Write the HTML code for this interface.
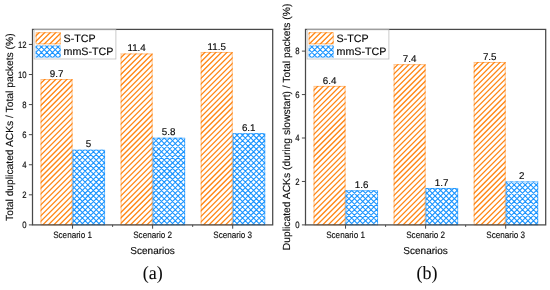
<!DOCTYPE html>
<html><head><meta charset="utf-8"><style>
html,body{margin:0;padding:0;background:#fff;width:550px;height:290px;overflow:hidden}
svg{display:block;will-change:transform}

text{text-rendering:geometricPrecision;font-family:"Liberation Sans",sans-serif;fill:#0a0a0a;stroke:#0a0a0a;stroke-width:0.25px}
.v{font-size:9.8px;text-anchor:middle;stroke-width:0.15px}
.yt{font-size:8.8px;text-anchor:end;stroke-width:0.15px}
.xt{font-size:8.15px;text-anchor:middle;stroke-width:0.12px}
.lg{font-size:10.7px;stroke-width:0.15px}
.xl{font-size:10px;text-anchor:middle;stroke-width:0.15px}
.yl{font-size:10.3px;text-anchor:middle;stroke-width:0.12px}
.cap{font-family:"Liberation Serif",serif;font-size:18px;text-anchor:middle;stroke-width:0.05px}
</style></head><body><div id="w" style="position:relative">
<svg width="550" height="290" viewBox="0 0 550 290">
<rect width="550" height="290" fill="#fff"/>
<g>
<clipPath id="c1"><rect x="40.55" y="79.03" width="32.00" height="145.87"/></clipPath><path clip-path="url(#c1)" d="M-112.78 225.90L35.09 78.03M-107.26 225.90L40.61 78.03M-101.74 225.90L46.13 78.03M-96.22 225.90L51.65 78.03M-90.70 225.90L57.17 78.03M-85.18 225.90L62.69 78.03M-79.66 225.90L68.21 78.03M-74.14 225.90L73.73 78.03M-68.62 225.90L79.25 78.03M-63.10 225.90L84.77 78.03M-57.58 225.90L90.29 78.03M-52.06 225.90L95.81 78.03M-46.54 225.90L101.33 78.03M-41.02 225.90L106.85 78.03M-35.50 225.90L112.37 78.03M-29.98 225.90L117.89 78.03M-24.46 225.90L123.41 78.03M-18.94 225.90L128.93 78.03M-13.42 225.90L134.45 78.03M-7.90 225.90L139.97 78.03M-2.38 225.90L145.49 78.03M3.14 225.90L151.01 78.03M8.66 225.90L156.53 78.03M14.18 225.90L162.05 78.03M19.70 225.90L167.57 78.03M25.22 225.90L173.09 78.03M30.74 225.90L178.61 78.03M36.26 225.90L184.13 78.03M41.78 225.90L189.65 78.03M47.30 225.90L195.17 78.03M52.82 225.90L200.69 78.03M58.34 225.90L206.21 78.03M63.86 225.90L211.73 78.03M69.38 225.90L217.25 78.03M74.90 225.90L222.77 78.03M80.42 225.90L228.29 78.03" stroke="#ff8614" stroke-width="1.3" fill="none"/>
<rect x="41.05" y="79.53" width="31" height="145.37" fill="none" stroke="#ff8614" stroke-opacity="0.5" stroke-width="1"/>
<clipPath id="c2"><rect x="72.55" y="149.71" width="32.50" height="75.19"/></clipPath><path clip-path="url(#c2)" d="M-13.78 225.90L63.41 148.71M-8.26 225.90L68.93 148.71M-2.74 225.90L74.45 148.71M2.78 225.90L79.97 148.71M8.30 225.90L85.49 148.71M13.82 225.90L91.01 148.71M19.34 225.90L96.53 148.71M24.86 225.90L102.05 148.71M30.38 225.90L107.57 148.71M35.90 225.90L113.09 148.71M41.42 225.90L118.61 148.71M46.94 225.90L124.13 148.71M52.46 225.90L129.65 148.71M57.98 225.90L135.17 148.71M63.50 225.90L140.69 148.71M69.02 225.90L146.21 148.71M74.54 225.90L151.73 148.71M80.06 225.90L157.25 148.71M85.58 225.90L162.77 148.71M91.10 225.90L168.29 148.71M96.62 225.90L173.81 148.71M102.14 225.90L179.33 148.71M107.66 225.90L184.85 148.71M113.18 225.90L190.37 148.71M-14.53 148.71L62.66 225.90M-9.01 148.71L68.18 225.90M-3.49 148.71L73.70 225.90M2.03 148.71L79.22 225.90M7.55 148.71L84.74 225.90M13.07 148.71L90.26 225.90M18.59 148.71L95.78 225.90M24.11 148.71L101.30 225.90M29.63 148.71L106.82 225.90M35.15 148.71L112.34 225.90M40.67 148.71L117.86 225.90M46.19 148.71L123.38 225.90M51.71 148.71L128.90 225.90M57.23 148.71L134.42 225.90M62.75 148.71L139.94 225.90M68.27 148.71L145.46 225.90M73.79 148.71L150.98 225.90M79.31 148.71L156.50 225.90M84.83 148.71L162.02 225.90M90.35 148.71L167.54 225.90M95.87 148.71L173.06 225.90M101.39 148.71L178.58 225.90M106.91 148.71L184.10 225.90M112.43 148.71L189.62 225.90" stroke="#1a94ff" stroke-width="1.1" fill="none"/>
<rect x="73.05" y="150.21" width="31.5" height="74.69" fill="none" stroke="#1a94ff" stroke-opacity="0.6" stroke-width="1"/>
<text x="56.55" y="76.73" class="v">9.7</text>
<text x="88.55" y="147.41" class="v">5</text>
<line x1="72.55" y1="224.9" x2="72.55" y2="228.70000000000002" stroke="#484848" stroke-width="1"/>
<text transform="translate(72.55,238.30) scale(1,1.13)" class="xt">Scenario 1</text>
<line x1="112.60" y1="224.9" x2="112.60" y2="226.9" stroke="#484848" stroke-width="1"/>
<clipPath id="c3"><rect x="120.62" y="53.46" width="32.00" height="171.44"/></clipPath><path clip-path="url(#c3)" d="M-58.28 225.90L115.16 52.46M-52.76 225.90L120.68 52.46M-47.24 225.90L126.20 52.46M-41.72 225.90L131.72 52.46M-36.20 225.90L137.24 52.46M-30.68 225.90L142.76 52.46M-25.16 225.90L148.28 52.46M-19.64 225.90L153.80 52.46M-14.12 225.90L159.32 52.46M-8.60 225.90L164.84 52.46M-3.08 225.90L170.36 52.46M2.44 225.90L175.88 52.46M7.96 225.90L181.40 52.46M13.48 225.90L186.92 52.46M19.00 225.90L192.44 52.46M24.52 225.90L197.96 52.46M30.04 225.90L203.48 52.46M35.56 225.90L209.00 52.46M41.08 225.90L214.52 52.46M46.60 225.90L220.04 52.46M52.12 225.90L225.56 52.46M57.64 225.90L231.08 52.46M63.16 225.90L236.60 52.46M68.68 225.90L242.12 52.46M74.20 225.90L247.64 52.46M79.72 225.90L253.16 52.46M85.24 225.90L258.68 52.46M90.76 225.90L264.20 52.46M96.28 225.90L269.72 52.46M101.80 225.90L275.24 52.46M107.32 225.90L280.76 52.46M112.84 225.90L286.28 52.46M118.36 225.90L291.80 52.46M123.88 225.90L297.32 52.46M129.40 225.90L302.84 52.46M134.92 225.90L308.36 52.46M140.44 225.90L313.88 52.46M145.96 225.90L319.40 52.46M151.48 225.90L324.92 52.46M157.00 225.90L330.44 52.46M162.52 225.90L335.96 52.46" stroke="#ff8614" stroke-width="1.3" fill="none"/>
<rect x="121.12" y="53.96" width="31" height="170.94" fill="none" stroke="#ff8614" stroke-opacity="0.5" stroke-width="1"/>
<clipPath id="c4"><rect x="152.62" y="137.68" width="32.50" height="87.22"/></clipPath><path clip-path="url(#c4)" d="M54.26 225.90L143.48 136.68M59.78 225.90L149.00 136.68M65.30 225.90L154.52 136.68M70.82 225.90L160.04 136.68M76.34 225.90L165.56 136.68M81.86 225.90L171.08 136.68M87.38 225.90L176.60 136.68M92.90 225.90L182.12 136.68M98.42 225.90L187.64 136.68M103.94 225.90L193.16 136.68M109.46 225.90L198.68 136.68M114.98 225.90L204.20 136.68M120.50 225.90L209.72 136.68M126.02 225.90L215.24 136.68M131.54 225.90L220.76 136.68M137.06 225.90L226.28 136.68M142.58 225.90L231.80 136.68M148.10 225.90L237.32 136.68M153.62 225.90L242.84 136.68M159.14 225.90L248.36 136.68M164.66 225.90L253.88 136.68M170.18 225.90L259.40 136.68M175.70 225.90L264.92 136.68M181.22 225.90L270.44 136.68M186.74 225.90L275.96 136.68M192.26 225.90L281.48 136.68M58.03 136.68L147.26 225.90M63.55 136.68L152.78 225.90M69.07 136.68L158.30 225.90M74.59 136.68L163.82 225.90M80.11 136.68L169.34 225.90M85.63 136.68L174.86 225.90M91.15 136.68L180.38 225.90M96.67 136.68L185.90 225.90M102.19 136.68L191.42 225.90M107.71 136.68L196.94 225.90M113.23 136.68L202.46 225.90M118.75 136.68L207.98 225.90M124.27 136.68L213.50 225.90M129.79 136.68L219.02 225.90M135.31 136.68L224.54 225.90M140.83 136.68L230.06 225.90M146.35 136.68L235.58 225.90M151.87 136.68L241.10 225.90M157.39 136.68L246.62 225.90M162.91 136.68L252.14 225.90M168.43 136.68L257.66 225.90M173.95 136.68L263.18 225.90M179.47 136.68L268.70 225.90M184.99 136.68L274.22 225.90M190.51 136.68L279.74 225.90" stroke="#1a94ff" stroke-width="1.1" fill="none"/>
<rect x="153.12" y="138.18" width="31.5" height="86.72" fill="none" stroke="#1a94ff" stroke-opacity="0.6" stroke-width="1"/>
<text x="136.62" y="51.16" class="v">11.4</text>
<text x="168.62" y="135.38" class="v">5.8</text>
<line x1="152.62" y1="224.9" x2="152.62" y2="228.70000000000002" stroke="#484848" stroke-width="1"/>
<text transform="translate(152.62,238.30) scale(1,1.13)" class="xt">Scenario 2</text>
<line x1="192.67" y1="224.9" x2="192.67" y2="226.9" stroke="#484848" stroke-width="1"/>
<clipPath id="c5"><rect x="200.69" y="51.96" width="32.00" height="172.94"/></clipPath><path clip-path="url(#c5)" d="M20.29 225.90L195.23 50.96M25.81 225.90L200.75 50.96M31.33 225.90L206.27 50.96M36.85 225.90L211.79 50.96M42.37 225.90L217.31 50.96M47.89 225.90L222.83 50.96M53.41 225.90L228.35 50.96M58.93 225.90L233.87 50.96M64.45 225.90L239.39 50.96M69.97 225.90L244.91 50.96M75.49 225.90L250.43 50.96M81.01 225.90L255.95 50.96M86.53 225.90L261.47 50.96M92.05 225.90L266.99 50.96M97.57 225.90L272.51 50.96M103.09 225.90L278.03 50.96M108.61 225.90L283.55 50.96M114.13 225.90L289.07 50.96M119.65 225.90L294.59 50.96M125.17 225.90L300.11 50.96M130.69 225.90L305.63 50.96M136.21 225.90L311.15 50.96M141.73 225.90L316.67 50.96M147.25 225.90L322.19 50.96M152.77 225.90L327.71 50.96M158.29 225.90L333.23 50.96M163.81 225.90L338.75 50.96M169.33 225.90L344.27 50.96M174.85 225.90L349.79 50.96M180.37 225.90L355.31 50.96M185.89 225.90L360.83 50.96M191.41 225.90L366.35 50.96M196.93 225.90L371.87 50.96M202.45 225.90L377.39 50.96M207.97 225.90L382.91 50.96M213.49 225.90L388.43 50.96M219.01 225.90L393.95 50.96M224.53 225.90L399.47 50.96M230.05 225.90L404.99 50.96M235.57 225.90L410.51 50.96M241.09 225.90L416.03 50.96" stroke="#ff8614" stroke-width="1.3" fill="none"/>
<rect x="201.19" y="52.46" width="31" height="172.44" fill="none" stroke="#ff8614" stroke-opacity="0.5" stroke-width="1"/>
<clipPath id="c6"><rect x="232.69" y="133.17" width="32.50" height="91.73"/></clipPath><path clip-path="url(#c6)" d="M129.82 225.90L223.55 132.17M135.34 225.90L229.07 132.17M140.86 225.90L234.59 132.17M146.38 225.90L240.11 132.17M151.90 225.90L245.63 132.17M157.42 225.90L251.15 132.17M162.94 225.90L256.67 132.17M168.46 225.90L262.19 132.17M173.98 225.90L267.71 132.17M179.50 225.90L273.23 132.17M185.02 225.90L278.75 132.17M190.54 225.90L284.27 132.17M196.06 225.90L289.79 132.17M201.58 225.90L295.31 132.17M207.10 225.90L300.83 132.17M212.62 225.90L306.35 132.17M218.14 225.90L311.87 132.17M223.66 225.90L317.39 132.17M229.18 225.90L322.91 132.17M234.70 225.90L328.43 132.17M240.22 225.90L333.95 132.17M245.74 225.90L339.47 132.17M251.26 225.90L344.99 132.17M256.78 225.90L350.51 132.17M262.30 225.90L356.03 132.17M267.82 225.90L361.55 132.17M273.34 225.90L367.07 132.17M129.08 132.17L222.82 225.90M134.60 132.17L228.34 225.90M140.12 132.17L233.86 225.90M145.64 132.17L239.38 225.90M151.16 132.17L244.90 225.90M156.68 132.17L250.42 225.90M162.20 132.17L255.94 225.90M167.72 132.17L261.46 225.90M173.24 132.17L266.98 225.90M178.76 132.17L272.50 225.90M184.28 132.17L278.02 225.90M189.80 132.17L283.54 225.90M195.32 132.17L289.06 225.90M200.84 132.17L294.58 225.90M206.36 132.17L300.10 225.90M211.88 132.17L305.62 225.90M217.40 132.17L311.14 225.90M222.92 132.17L316.66 225.90M228.44 132.17L322.18 225.90M233.96 132.17L327.70 225.90M239.48 132.17L333.22 225.90M245.00 132.17L338.74 225.90M250.52 132.17L344.26 225.90M256.04 132.17L349.78 225.90M261.56 132.17L355.30 225.90M267.08 132.17L360.82 225.90M272.60 132.17L366.34 225.90" stroke="#1a94ff" stroke-width="1.1" fill="none"/>
<rect x="233.19" y="133.67" width="31.5" height="91.23" fill="none" stroke="#1a94ff" stroke-opacity="0.6" stroke-width="1"/>
<text x="216.69" y="49.66" class="v">11.5</text>
<text x="248.69" y="130.87" class="v">6.1</text>
<line x1="232.69" y1="224.9" x2="232.69" y2="228.70000000000002" stroke="#484848" stroke-width="1"/>
<text transform="translate(232.69,238.30) scale(1,1.13)" class="xt">Scenario 3</text>
<line x1="28.90" y1="224.90" x2="32.5" y2="224.90" stroke="#484848" stroke-width="1"/>
<text transform="translate(26.50,228.10) scale(0.88,1.05)" class="yt">0</text>
<line x1="28.90" y1="194.82" x2="32.5" y2="194.82" stroke="#484848" stroke-width="1"/>
<text transform="translate(26.50,198.02) scale(0.88,1.05)" class="yt">2</text>
<line x1="28.90" y1="164.75" x2="32.5" y2="164.75" stroke="#484848" stroke-width="1"/>
<text transform="translate(26.50,167.95) scale(0.88,1.05)" class="yt">4</text>
<line x1="28.90" y1="134.67" x2="32.5" y2="134.67" stroke="#484848" stroke-width="1"/>
<text transform="translate(26.50,137.87) scale(0.88,1.05)" class="yt">6</text>
<line x1="28.90" y1="104.59" x2="32.5" y2="104.59" stroke="#484848" stroke-width="1"/>
<text transform="translate(26.50,107.79) scale(0.88,1.05)" class="yt">8</text>
<line x1="28.90" y1="74.52" x2="32.5" y2="74.52" stroke="#484848" stroke-width="1"/>
<text transform="translate(26.50,77.72) scale(0.88,1.05)" class="yt">10</text>
<line x1="28.90" y1="44.44" x2="32.5" y2="44.44" stroke="#484848" stroke-width="1"/>
<text transform="translate(26.50,47.64) scale(0.88,1.05)" class="yt">12</text>
<rect x="32.50" y="29.40" width="240.20" height="195.50" fill="none" stroke="#484848" stroke-width="1.25"/>
<rect x="34.10" y="29.80" width="81.80" height="29.20" fill="#fff" stroke="#bdbdbd" stroke-width="0.8"/>
<clipPath id="c7"><rect x="35.65" y="32.20" width="25.05" height="12.10"/></clipPath><path clip-path="url(#c7)" d="M15.42 45.30L29.52 31.20M20.94 45.30L35.04 31.20M26.46 45.30L40.56 31.20M31.98 45.30L46.08 31.20M37.50 45.30L51.60 31.20M43.02 45.30L57.12 31.20M48.54 45.30L62.64 31.20M54.06 45.30L68.16 31.20M59.58 45.30L73.68 31.20M65.10 45.30L79.20 31.20M70.62 45.30L84.72 31.20" stroke="#ff8614" stroke-width="1.3" fill="none"/>
<rect x="36.15" y="32.70" width="24.05" height="11.1" fill="none" stroke="#ff8614" stroke-opacity="0.55"/>
<clipPath id="c8"><rect x="35.65" y="45.60" width="25.05" height="12.00"/></clipPath><path clip-path="url(#c8)" d="M13.16 58.60L27.16 44.60M18.68 58.60L32.68 44.60M24.20 58.60L38.20 44.60M29.72 58.60L43.72 44.60M35.24 58.60L49.24 44.60M40.76 58.60L54.76 44.60M46.28 58.60L60.28 44.60M51.80 58.60L65.80 44.60M57.32 58.60L71.32 44.60M62.84 58.60L76.84 44.60M68.36 58.60L82.36 44.60M17.00 44.60L31.00 58.60M22.52 44.60L36.52 58.60M28.04 44.60L42.04 58.60M33.56 44.60L47.56 58.60M39.08 44.60L53.08 58.60M44.60 44.60L58.60 58.60M50.12 44.60L64.12 58.60M55.64 44.60L69.64 58.60M61.16 44.60L75.16 58.60M66.68 44.60L80.68 58.60" stroke="#1a94ff" stroke-width="1.1" fill="none"/>
<rect x="36.15" y="46.10" width="24.05" height="11" fill="none" stroke="#1a94ff" stroke-opacity="0.4"/>
<text x="63.50" y="42.00" class="lg">S-TCP</text>
<text x="63.50" y="55.40" class="lg">mmS-TCP</text>
<text x="152.60" y="254.00" class="xl">Scenarios</text>
<text transform="translate(152.80,279.2) scale(1,1.04)" class="cap">(a)</text>
<text transform="translate(13.00,127.2) rotate(-90)" x="0" y="0" class="yl">Total duplicated ACKs / Total packets (%)</text>
<clipPath id="c9"><rect x="313.55" y="85.88" width="32.00" height="139.02"/></clipPath><path clip-path="url(#c9)" d="M167.07 225.90L308.09 84.88M172.59 225.90L313.61 84.88M178.11 225.90L319.13 84.88M183.63 225.90L324.65 84.88M189.15 225.90L330.17 84.88M194.67 225.90L335.69 84.88M200.19 225.90L341.21 84.88M205.71 225.90L346.73 84.88M211.23 225.90L352.25 84.88M216.75 225.90L357.77 84.88M222.27 225.90L363.29 84.88M227.79 225.90L368.81 84.88M233.31 225.90L374.33 84.88M238.83 225.90L379.85 84.88M244.35 225.90L385.37 84.88M249.87 225.90L390.89 84.88M255.39 225.90L396.41 84.88M260.91 225.90L401.93 84.88M266.43 225.90L407.45 84.88M271.95 225.90L412.97 84.88M277.47 225.90L418.49 84.88M282.99 225.90L424.01 84.88M288.51 225.90L429.53 84.88M294.03 225.90L435.05 84.88M299.55 225.90L440.57 84.88M305.07 225.90L446.09 84.88M310.59 225.90L451.61 84.88M316.11 225.90L457.13 84.88M321.63 225.90L462.65 84.88M327.15 225.90L468.17 84.88M332.67 225.90L473.69 84.88M338.19 225.90L479.21 84.88M343.71 225.90L484.73 84.88M349.23 225.90L490.25 84.88M354.75 225.90L495.77 84.88" stroke="#ff8614" stroke-width="1.3" fill="none"/>
<rect x="314.05" y="86.38" width="31" height="138.52" fill="none" stroke="#ff8614" stroke-opacity="0.5" stroke-width="1"/>
<clipPath id="c10"><rect x="345.55" y="190.14" width="32.50" height="34.76"/></clipPath><path clip-path="url(#c10)" d="M299.65 225.90L336.41 189.14M305.17 225.90L341.93 189.14M310.69 225.90L347.45 189.14M316.21 225.90L352.97 189.14M321.73 225.90L358.49 189.14M327.25 225.90L364.01 189.14M332.77 225.90L369.53 189.14M338.29 225.90L375.05 189.14M343.81 225.90L380.57 189.14M349.33 225.90L386.09 189.14M354.85 225.90L391.61 189.14M360.37 225.90L397.13 189.14M365.89 225.90L402.65 189.14M371.41 225.90L408.17 189.14M376.93 225.90L413.69 189.14M382.45 225.90L419.21 189.14M387.97 225.90L424.73 189.14M300.70 189.14L337.45 225.90M306.22 189.14L342.97 225.90M311.74 189.14L348.49 225.90M317.26 189.14L354.01 225.90M322.78 189.14L359.53 225.90M328.30 189.14L365.05 225.90M333.82 189.14L370.57 225.90M339.34 189.14L376.09 225.90M344.86 189.14L381.61 225.90M350.38 189.14L387.13 225.90M355.90 189.14L392.65 225.90M361.42 189.14L398.17 225.90M366.94 189.14L403.69 225.90M372.46 189.14L409.21 225.90M377.98 189.14L414.73 225.90M383.50 189.14L420.25 225.90" stroke="#1a94ff" stroke-width="1.1" fill="none"/>
<rect x="346.05" y="190.64" width="31.5" height="34.26" fill="none" stroke="#1a94ff" stroke-opacity="0.6" stroke-width="1"/>
<text x="329.55" y="83.58" class="v">6.4</text>
<text x="361.55" y="187.84" class="v">1.6</text>
<line x1="345.55" y1="224.9" x2="345.55" y2="228.70000000000002" stroke="#484848" stroke-width="1"/>
<text transform="translate(345.55,238.30) scale(1,1.13)" class="xt">Scenario 1</text>
<line x1="385.60" y1="224.9" x2="385.60" y2="226.9" stroke="#484848" stroke-width="1"/>
<clipPath id="c11"><rect x="393.62" y="64.16" width="32.00" height="160.74"/></clipPath><path clip-path="url(#c11)" d="M225.42 225.90L388.16 63.16M230.94 225.90L393.68 63.16M236.46 225.90L399.20 63.16M241.98 225.90L404.72 63.16M247.50 225.90L410.24 63.16M253.02 225.90L415.76 63.16M258.54 225.90L421.28 63.16M264.06 225.90L426.80 63.16M269.58 225.90L432.32 63.16M275.10 225.90L437.84 63.16M280.62 225.90L443.36 63.16M286.14 225.90L448.88 63.16M291.66 225.90L454.40 63.16M297.18 225.90L459.92 63.16M302.70 225.90L465.44 63.16M308.22 225.90L470.96 63.16M313.74 225.90L476.48 63.16M319.26 225.90L482.00 63.16M324.78 225.90L487.52 63.16M330.30 225.90L493.04 63.16M335.82 225.90L498.56 63.16M341.34 225.90L504.08 63.16M346.86 225.90L509.60 63.16M352.38 225.90L515.12 63.16M357.90 225.90L520.64 63.16M363.42 225.90L526.16 63.16M368.94 225.90L531.68 63.16M374.46 225.90L537.20 63.16M379.98 225.90L542.72 63.16M385.50 225.90L548.24 63.16M391.02 225.90L553.76 63.16M396.54 225.90L559.28 63.16M402.06 225.90L564.80 63.16M407.58 225.90L570.32 63.16M413.10 225.90L575.84 63.16M418.62 225.90L581.36 63.16M424.14 225.90L586.88 63.16M429.66 225.90L592.40 63.16M435.18 225.90L597.92 63.16" stroke="#ff8614" stroke-width="1.3" fill="none"/>
<rect x="394.12" y="64.66" width="31" height="160.24" fill="none" stroke="#ff8614" stroke-opacity="0.5" stroke-width="1"/>
<clipPath id="c12"><rect x="425.62" y="187.97" width="32.50" height="36.93"/></clipPath><path clip-path="url(#c12)" d="M377.55 225.90L416.48 186.97M383.07 225.90L422.00 186.97M388.59 225.90L427.52 186.97M394.11 225.90L433.04 186.97M399.63 225.90L438.56 186.97M405.15 225.90L444.08 186.97M410.67 225.90L449.60 186.97M416.19 225.90L455.12 186.97M421.71 225.90L460.64 186.97M427.23 225.90L466.16 186.97M432.75 225.90L471.68 186.97M438.27 225.90L477.20 186.97M443.79 225.90L482.72 186.97M449.31 225.90L488.24 186.97M454.83 225.90L493.76 186.97M460.35 225.90L499.28 186.97M465.87 225.90L504.80 186.97M381.94 186.97L420.87 225.90M387.46 186.97L426.39 225.90M392.98 186.97L431.91 225.90M398.50 186.97L437.43 225.90M404.02 186.97L442.95 225.90M409.54 186.97L448.47 225.90M415.06 186.97L453.99 225.90M420.58 186.97L459.51 225.90M426.10 186.97L465.03 225.90M431.62 186.97L470.55 225.90M437.14 186.97L476.07 225.90M442.66 186.97L481.59 225.90M448.18 186.97L487.11 225.90M453.70 186.97L492.63 225.90M459.22 186.97L498.15 225.90M464.74 186.97L503.67 225.90" stroke="#1a94ff" stroke-width="1.1" fill="none"/>
<rect x="426.12" y="188.47" width="31.5" height="36.43" fill="none" stroke="#1a94ff" stroke-opacity="0.6" stroke-width="1"/>
<text x="409.62" y="61.86" class="v">7.4</text>
<text x="441.62" y="185.67" class="v">1.7</text>
<line x1="425.62" y1="224.9" x2="425.62" y2="228.70000000000002" stroke="#484848" stroke-width="1"/>
<text transform="translate(425.62,238.30) scale(1,1.13)" class="xt">Scenario 2</text>
<line x1="465.67" y1="224.9" x2="465.67" y2="226.9" stroke="#484848" stroke-width="1"/>
<clipPath id="c13"><rect x="473.69" y="61.98" width="32.00" height="162.92"/></clipPath><path clip-path="url(#c13)" d="M303.31 225.90L468.23 60.98M308.83 225.90L473.75 60.98M314.35 225.90L479.27 60.98M319.87 225.90L484.79 60.98M325.39 225.90L490.31 60.98M330.91 225.90L495.83 60.98M336.43 225.90L501.35 60.98M341.95 225.90L506.87 60.98M347.47 225.90L512.39 60.98M352.99 225.90L517.91 60.98M358.51 225.90L523.43 60.98M364.03 225.90L528.95 60.98M369.55 225.90L534.47 60.98M375.07 225.90L539.99 60.98M380.59 225.90L545.51 60.98M386.11 225.90L551.03 60.98M391.63 225.90L556.55 60.98M397.15 225.90L562.07 60.98M402.67 225.90L567.59 60.98M408.19 225.90L573.11 60.98M413.71 225.90L578.63 60.98M419.23 225.90L584.15 60.98M424.75 225.90L589.67 60.98M430.27 225.90L595.19 60.98M435.79 225.90L600.71 60.98M441.31 225.90L606.23 60.98M446.83 225.90L611.75 60.98M452.35 225.90L617.27 60.98M457.87 225.90L622.79 60.98M463.39 225.90L628.31 60.98M468.91 225.90L633.83 60.98M474.43 225.90L639.35 60.98M479.95 225.90L644.87 60.98M485.47 225.90L650.39 60.98M490.99 225.90L655.91 60.98M496.51 225.90L661.43 60.98M502.03 225.90L666.95 60.98M507.55 225.90L672.47 60.98M513.07 225.90L677.99 60.98" stroke="#ff8614" stroke-width="1.3" fill="none"/>
<rect x="474.19" y="62.48" width="31" height="162.42" fill="none" stroke="#ff8614" stroke-opacity="0.5" stroke-width="1"/>
<clipPath id="c14"><rect x="505.69" y="181.46" width="32.50" height="43.44"/></clipPath><path clip-path="url(#c14)" d="M451.11 225.90L496.55 180.46M456.63 225.90L502.07 180.46M462.15 225.90L507.59 180.46M467.67 225.90L513.11 180.46M473.19 225.90L518.63 180.46M478.71 225.90L524.15 180.46M484.23 225.90L529.67 180.46M489.75 225.90L535.19 180.46M495.27 225.90L540.71 180.46M500.79 225.90L546.23 180.46M506.31 225.90L551.75 180.46M511.83 225.90L557.27 180.46M517.35 225.90L562.79 180.46M522.87 225.90L568.31 180.46M528.39 225.90L573.83 180.46M533.91 225.90L579.35 180.46M539.43 225.90L584.87 180.46M544.95 225.90L590.39 180.46M454.50 180.46L499.95 225.90M460.02 180.46L505.47 225.90M465.54 180.46L510.99 225.90M471.06 180.46L516.51 225.90M476.58 180.46L522.03 225.90M482.10 180.46L527.55 225.90M487.62 180.46L533.07 225.90M493.14 180.46L538.59 225.90M498.66 180.46L544.11 225.90M504.18 180.46L549.63 225.90M509.70 180.46L555.15 225.90M515.22 180.46L560.67 225.90M520.74 180.46L566.19 225.90M526.26 180.46L571.71 225.90M531.78 180.46L577.23 225.90M537.30 180.46L582.75 225.90M542.82 180.46L588.27 225.90" stroke="#1a94ff" stroke-width="1.1" fill="none"/>
<rect x="506.19" y="181.96" width="31.5" height="42.94" fill="none" stroke="#1a94ff" stroke-opacity="0.6" stroke-width="1"/>
<text x="489.69" y="59.68" class="v">7.5</text>
<text x="521.69" y="179.16" class="v">2</text>
<line x1="505.69" y1="224.9" x2="505.69" y2="228.70000000000002" stroke="#484848" stroke-width="1"/>
<text transform="translate(505.69,238.30) scale(1,1.13)" class="xt">Scenario 3</text>
<line x1="301.90" y1="224.90" x2="305.5" y2="224.90" stroke="#484848" stroke-width="1"/>
<text transform="translate(299.50,228.10) scale(0.88,1.05)" class="yt">0</text>
<line x1="301.90" y1="181.46" x2="305.5" y2="181.46" stroke="#484848" stroke-width="1"/>
<text transform="translate(299.50,184.66) scale(0.88,1.05)" class="yt">2</text>
<line x1="301.90" y1="138.01" x2="305.5" y2="138.01" stroke="#484848" stroke-width="1"/>
<text transform="translate(299.50,141.21) scale(0.88,1.05)" class="yt">4</text>
<line x1="301.90" y1="94.57" x2="305.5" y2="94.57" stroke="#484848" stroke-width="1"/>
<text transform="translate(299.50,97.77) scale(0.88,1.05)" class="yt">6</text>
<line x1="301.90" y1="51.12" x2="305.5" y2="51.12" stroke="#484848" stroke-width="1"/>
<text transform="translate(299.50,54.32) scale(0.88,1.05)" class="yt">8</text>
<rect x="305.50" y="29.40" width="240.20" height="195.50" fill="none" stroke="#484848" stroke-width="1.25"/>
<rect x="307.10" y="29.80" width="81.80" height="29.20" fill="#fff" stroke="#bdbdbd" stroke-width="0.8"/>
<clipPath id="c15"><rect x="308.65" y="32.20" width="25.05" height="12.10"/></clipPath><path clip-path="url(#c15)" d="M285.90 45.30L300.00 31.20M291.42 45.30L305.52 31.20M296.94 45.30L311.04 31.20M302.46 45.30L316.56 31.20M307.98 45.30L322.08 31.20M313.50 45.30L327.60 31.20M319.02 45.30L333.12 31.20M324.54 45.30L338.64 31.20M330.06 45.30L344.16 31.20M335.58 45.30L349.68 31.20M341.10 45.30L355.20 31.20" stroke="#ff8614" stroke-width="1.3" fill="none"/>
<rect x="309.15" y="32.70" width="24.05" height="11.1" fill="none" stroke="#ff8614" stroke-opacity="0.55"/>
<clipPath id="c16"><rect x="308.65" y="45.60" width="25.05" height="12.00"/></clipPath><path clip-path="url(#c16)" d="M289.16 58.60L303.16 44.60M294.68 58.60L308.68 44.60M300.20 58.60L314.20 44.60M305.72 58.60L319.72 44.60M311.24 58.60L325.24 44.60M316.76 58.60L330.76 44.60M322.28 58.60L336.28 44.60M327.80 58.60L341.80 44.60M333.32 58.60L347.32 44.60M338.84 58.60L352.84 44.60M287.48 44.60L301.48 58.60M293.00 44.60L307.00 58.60M298.52 44.60L312.52 58.60M304.04 44.60L318.04 58.60M309.56 44.60L323.56 58.60M315.08 44.60L329.08 58.60M320.60 44.60L334.60 58.60M326.12 44.60L340.12 58.60M331.64 44.60L345.64 58.60M337.16 44.60L351.16 58.60M342.68 44.60L356.68 58.60" stroke="#1a94ff" stroke-width="1.1" fill="none"/>
<rect x="309.15" y="46.10" width="24.05" height="11" fill="none" stroke="#1a94ff" stroke-opacity="0.4"/>
<text x="336.50" y="42.00" class="lg">S-TCP</text>
<text x="336.50" y="55.40" class="lg">mmS-TCP</text>
<text x="425.60" y="254.00" class="xl">Scenarios</text>
<text transform="translate(426.90,279.2) scale(1,1.04)" class="cap">(b)</text>
<text transform="translate(290.00,126.9) rotate(-90)" x="0" y="0" class="yl">Duplicated ACKs (during slowstart) / Total packets (%)</text>
</g></svg>

</div></body></html>
